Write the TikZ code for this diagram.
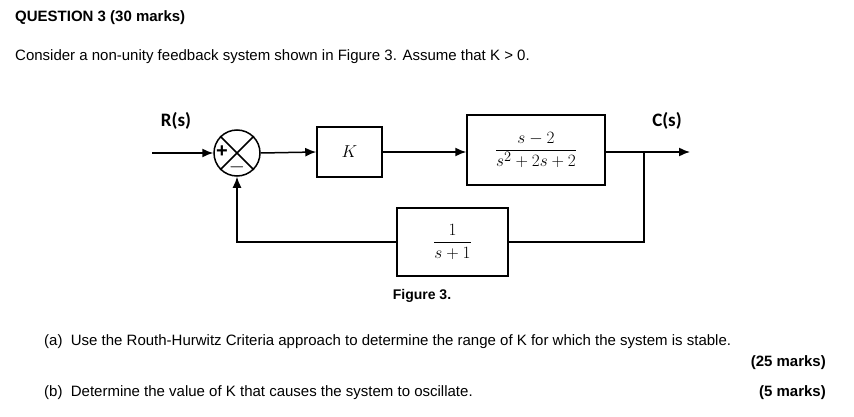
\documentclass[tikz,border=0pt]{standalone}
\usepackage{fontspec}
\usetikzlibrary{arrows.meta}
\setmainfont{Liberation Sans}
\newfontfamily\calib{Carlito}
\begin{document}
\begin{tikzpicture}[x=1pt,y=-1pt,
  blk/.style={draw,line width=1.5pt,inner sep=0pt},
  ln/.style={line width=1.5pt},
  arr/.style={ln,-{Latex[length=11pt,width=9pt]}},
  txt/.style={anchor=west,inner sep=0pt,font=\fontsize{15}{17}\selectfont}]
\useasboundingbox[fill=white] (0,0) rectangle (854,417);
\node[txt,font=\fontsize{15}{17}\selectfont\bfseries] (t) at (15,18) {QUESTION 3 (30 marks)};
\node[txt] (c) at (15,57) {Consider a non-unity feedback system shown in Figure 3. Assume that K > 0.};
\node[blk,circle,minimum size=46pt] (sum) at (237,153) {};
\draw[ln] (sum.north west) -- (sum.south east) (sum.north east) -- (sum.south west);
\node[font=\fontsize{20}{20}\selectfont\bfseries] at (222,152) {+};
\node[font=\fontsize{20}{20}\selectfont\bfseries] at (237,167) {$-$};
\node[blk,minimum width=65pt,minimum height=50pt] (k) at (349.5,152) {\fontsize{19}{21}\selectfont $K$};
\node[blk,minimum width=138pt,minimum height=70pt] (g) at (536,150) {\fontsize{19}{21}\selectfont $\displaystyle\frac{s-2}{s^2+2s+2}$};
\node[blk,minimum width=111pt,minimum height=68pt] (h) at (452.5,242) {\fontsize{19}{21}\selectfont $\displaystyle\frac{1}{s+1}$};
\coordinate (in) at (152,153);
\coordinate (out) at (690,152);
\coordinate (br) at (644,152);
\draw[arr] (in) -- (sum.west);
\draw[arr] (sum.east) -- (k.west);
\draw[arr] (k.east) -- (k.east -| g.west);
\draw[arr] (g.east |- br) -- (out);
\draw[ln] (br) |- (h.east);
\draw[arr] (h.west) -| (sum.south);
\node[font=\calib\bfseries\fontsize{19}{21}\selectfont] (r) at (176,121) {R(s)};
\node[font=\calib\bfseries\fontsize{19}{21}\selectfont] (cs) at (667,121) {C(s)};
\node[font=\fontsize{14}{16}\selectfont\bfseries] (f) at (422,296) {Figure 3.};
\node[txt] (a) at (44,342) {(a)\ \ Use the Routh-Hurwitz Criteria approach to determine the range of K for which the system is stable.};
\node[txt,anchor=east,font=\fontsize{15}{17}\selectfont\bfseries] (am) at (826,363) {(25 marks)};
\node[txt] (b) at (44,393) {(b)\ \ Determine the value of K that causes the system to oscillate.};
\node[txt,anchor=east,font=\fontsize{15}{17}\selectfont\bfseries] (bm) at (826,393) {(5 marks)};
\end{tikzpicture}
\end{document}
